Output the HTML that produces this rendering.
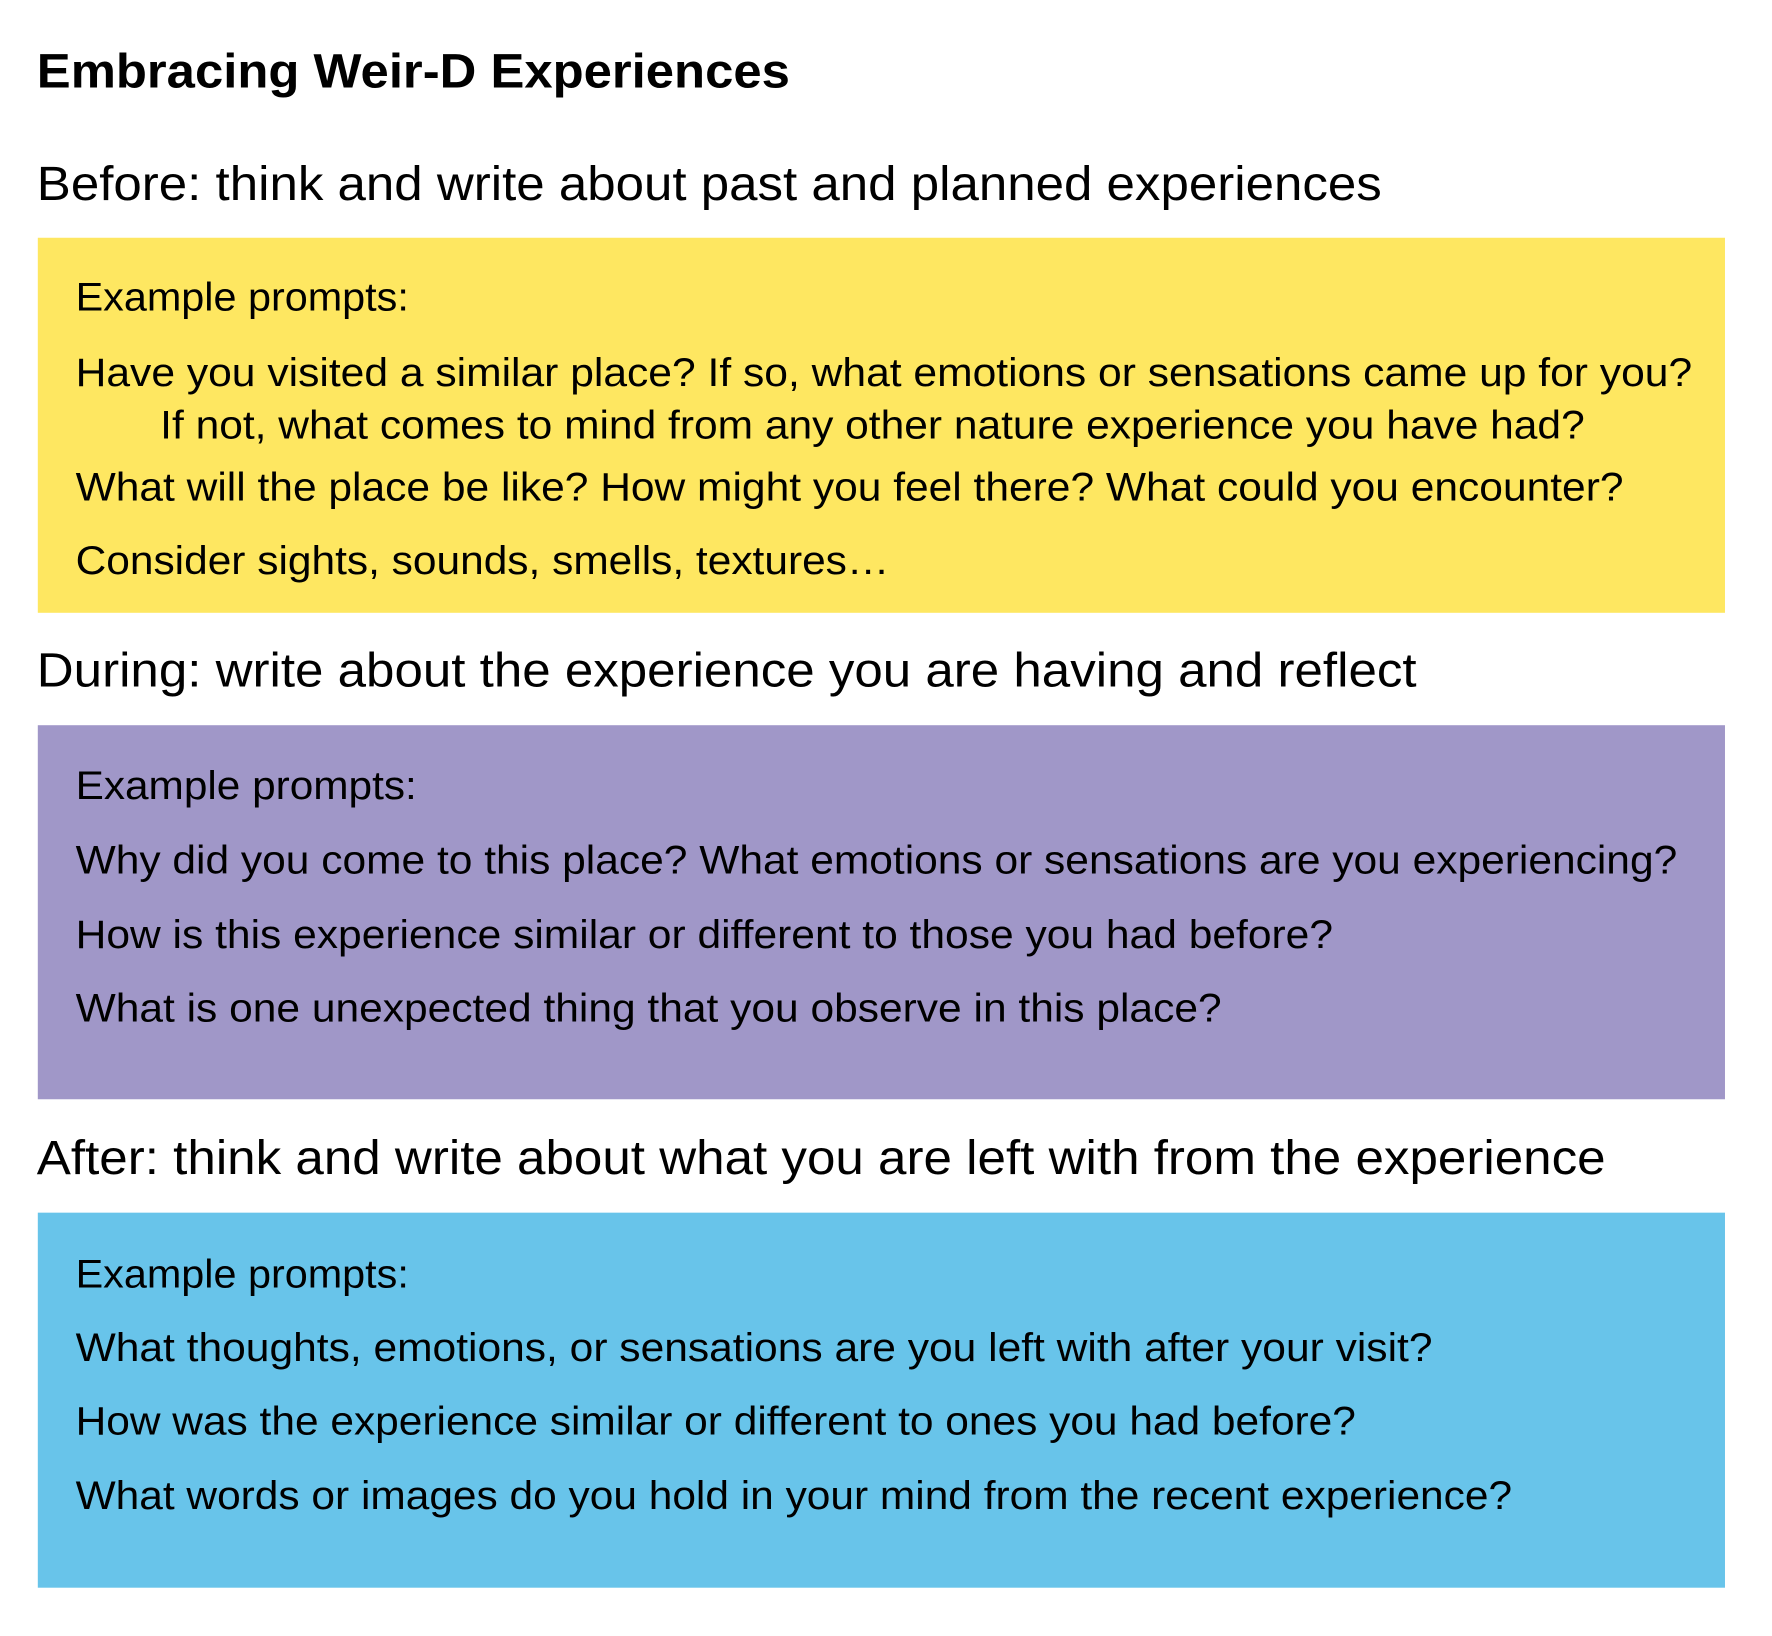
<!DOCTYPE html>
<html><head><meta charset="utf-8"><style>
html,body{margin:0;padding:0;background:#fff;}
svg{display:block;}
text{font-family:"Liberation Sans",Arial,sans-serif;fill:#000;}
</style></head><body>
<svg width="1772" height="1636" viewBox="0 0 1772 1636" xmlns="http://www.w3.org/2000/svg">
<rect x="0" y="0" width="1772" height="1636" fill="#fff"/>
<g transform="scale(0.9948)">
<text x="37" y="88" font-size="48" font-weight="bold" textLength="757" lengthAdjust="spacingAndGlyphs">Embracing Weir-D Experiences</text>
<text x="37" y="201" font-size="48" textLength="1352" lengthAdjust="spacingAndGlyphs">Before: think and write about past and planned experiences</text>
<rect x="38" y="239" width="1696" height="377" fill="#FEE761"/>
<g font-size="40">
<text x="76" y="312" textLength="335" lengthAdjust="spacingAndGlyphs">Example prompts:</text>
<text x="76" y="388" textLength="1625" lengthAdjust="spacingAndGlyphs">Have you visited a similar place? If so, what emotions or sensations came up for you?</text>
<text x="161" y="441" textLength="1432" lengthAdjust="spacingAndGlyphs">If not, what comes to mind from any other nature experience you have had?</text>
<text x="76" y="503" textLength="1556" lengthAdjust="spacingAndGlyphs">What will the place be like? How might you feel there? What could you encounter?</text>
<text x="76" y="577" textLength="818" lengthAdjust="spacingAndGlyphs">Consider sights, sounds, smells, textures…</text>
</g>
<text x="37" y="690" font-size="48" textLength="1387" lengthAdjust="spacingAndGlyphs">During: write about the experience you are having and reflect</text>
<rect x="38" y="729" width="1696" height="376" fill="#A097C8"/>
<g font-size="40">
<text x="76" y="803" textLength="343" lengthAdjust="spacingAndGlyphs">Example prompts:</text>
<text x="76" y="878" textLength="1610" lengthAdjust="spacingAndGlyphs">Why did you come to this place? What emotions or sensations are you experiencing?</text>
<text x="76" y="953" textLength="1264" lengthAdjust="spacingAndGlyphs">How is this experience similar or different to those you had before?</text>
<text x="76" y="1027" textLength="1152" lengthAdjust="spacingAndGlyphs">What is one unexpected thing that you observe in this place?</text>
</g>
<text x="37" y="1180" font-size="48" textLength="1577" lengthAdjust="spacingAndGlyphs">After: think and write about what you are left with from the experience</text>
<rect x="38" y="1219" width="1696" height="377" fill="#68C4EA"/>
<g font-size="40">
<text x="76" y="1294" textLength="335" lengthAdjust="spacingAndGlyphs">Example prompts:</text>
<text x="76" y="1368" textLength="1364" lengthAdjust="spacingAndGlyphs">What thoughts, emotions, or sensations are you left with after your visit?</text>
<text x="76" y="1442" textLength="1287" lengthAdjust="spacingAndGlyphs">How was the experience similar or different to ones you had before?</text>
<text x="76" y="1517" textLength="1444" lengthAdjust="spacingAndGlyphs">What words or images do you hold in your mind from the recent experience?</text>
</g>
</g>
</svg>
</body></html>
